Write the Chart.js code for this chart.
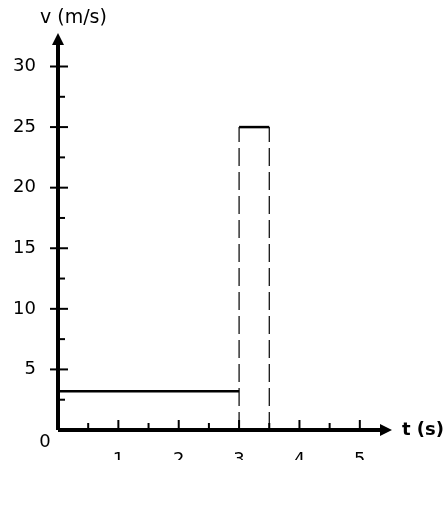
<!DOCTYPE html>
<html><head><meta charset="utf-8">
<script src="https://cdn.jsdelivr.net/npm/chart.js@4"></script>
<style>html,body{margin:0;background:#fff}#w{width:448px;height:528px}</style>
</head><body><div id="w"><canvas id="c"></canvas></div>
<script>
const lowT = [0, 3];
const lowV = [3.2, 3.2];
const highT = [3, 3.5];
const highV = [25, 25];
const dashT = [3, 3.5];
const dashTop = 25;
const xTicks = [1, 2, 3, 4, 5];
const yTicks = [5, 10, 15, 20, 25, 30];
const xMax = 5.5, yMax = 32.6;

const FONT = "'DejaVu Sans', sans-serif";
const pts = (t, v) => t.map((x, i) => ({x, y: v[i]}));

const axesPlugin = {
  id: 'axes',
  afterDatasetsDraw(chart) {
    const {ctx, chartArea: a, scales: {x, y}} = chart;
    ctx.save();
    ctx.strokeStyle = '#000'; ctx.fillStyle = '#000';
    ctx.lineWidth = 4; ctx.lineCap = 'butt';
    const x0 = x.getPixelForValue(0), y0 = y.getPixelForValue(0);
    ctx.beginPath(); ctx.moveTo(x0, y0); ctx.lineTo(a.right - 6, y0); ctx.stroke();
    ctx.beginPath(); ctx.moveTo(x0, y0); ctx.lineTo(x0, a.top + 6); ctx.stroke();
    ctx.beginPath(); ctx.moveTo(a.right + 2, y0); ctx.lineTo(a.right - 10, y0 - 6); ctx.lineTo(a.right - 10, y0 + 6); ctx.closePath(); ctx.fill();
    ctx.beginPath(); ctx.moveTo(x0, a.top - 2); ctx.lineTo(x0 - 6, a.top + 10); ctx.lineTo(x0 + 6, a.top + 10); ctx.closePath(); ctx.fill();
    ctx.lineWidth = 2;
    for (let v = 0.5; v < 5.5; v += 0.5) {
      const px = x.getPixelForValue(v);
      const len = Number.isInteger(v) ? 10 : 7;
      ctx.beginPath(); ctx.moveTo(px, y0); ctx.lineTo(px, y0 - len); ctx.stroke();
    }
    for (let v = 2.5; v <= 30; v += 2.5) {
      const py = y.getPixelForValue(v);
      const len = (v % 5 === 0) ? 10 : 7;
      ctx.beginPath(); ctx.moveTo(x0 - (v % 5 === 0 ? 8 : 0), py); ctx.lineTo(x0 + len, py); ctx.stroke();
    }
    ctx.font = '19px ' + FONT; ctx.textBaseline = 'middle';
    ctx.textAlign = 'left';
    ctx.fillText('v (m/s)', 40, 18);
    ctx.font = 'bold 18px ' + FONT;
    ctx.fillText('t (s)', a.right + 12, y0);
    ctx.font = '18px ' + FONT; ctx.textAlign = 'center';
    ctx.fillText('0', 45, y0 + 12);
    ctx.restore();
  }
};

new Chart(document.getElementById('c'), {
  type: 'scatter',
  data: { datasets: [
    {data: pts(lowT, lowV), showLine: true, borderColor: '#000', borderWidth: 2.5, pointRadius: 0},
    {data: pts(highT, highV), showLine: true, borderColor: '#000', borderWidth: 2.5, pointRadius: 0},
    {data: [{x: dashT[0], y: 0}, {x: dashT[0], y: dashTop}], showLine: true, borderColor: '#000', borderWidth: 1.2, borderDash: [18, 6], pointRadius: 0},
    {data: [{x: dashT[1], y: 0}, {x: dashT[1], y: dashTop}], showLine: true, borderColor: '#000', borderWidth: 1.2, borderDash: [18, 6], pointRadius: 0}
  ]},
  options: {
    responsive: true, maintainAspectRatio: false, animation: false,
    layout: {padding: {left: 10, right: 58, top: 35, bottom: 68}},
    plugins: {legend: {display: false}, tooltip: {enabled: false}},
    scales: {
      x: {type: 'linear', min: 0, max: xMax, grid: {display: false}, border: {display: false},
          afterFit: s => { s.height = 30; },
          afterBuildTicks: s => { s.ticks = xTicks.map(v => ({value: v})); },
          ticks: {color: '#000', font: {size: 18, family: FONT}, padding: 12, maxRotation: 0}},
      y: {type: 'linear', min: 0, max: yMax, grid: {display: false}, border: {display: false},
          afterFit: s => { s.width = 48; },
          afterBuildTicks: s => { s.ticks = yTicks.map(v => ({value: v})); },
          ticks: {color: '#000', font: {size: 18, family: FONT}, padding: 14}}
    }
  },
  plugins: [axesPlugin]
});
</script></body></html>
